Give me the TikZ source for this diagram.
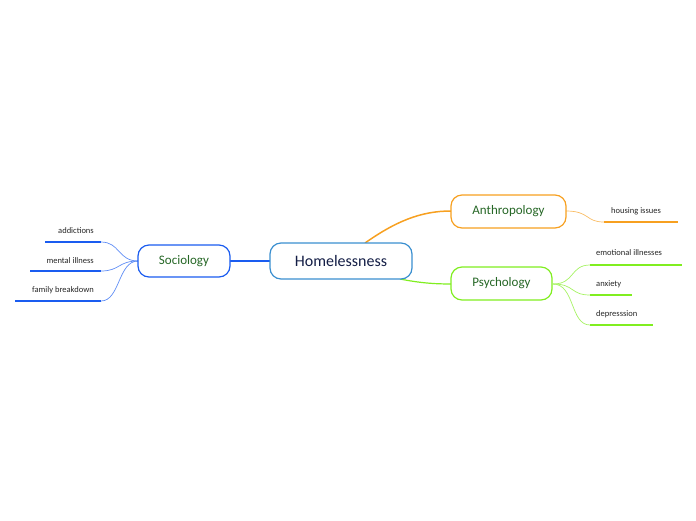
\documentclass[tikz,border=0pt]{standalone}
\usepackage{fontspec}
\setmainfont{Carlito}
\begin{document}
\begin{tikzpicture}[x=1pt,y=-1pt,
 main/.style={draw,line width=1.2pt,rounded corners=11pt,fill=white,font=\fontsize{13}{15}\selectfont,text=green!30!black!85,minimum height=33pt},
 leaf/.style={font=\fontsize{8.5}{10}\selectfont,text=black!85,inner sep=1pt}]
\definecolor{cb}{HTML}{3A8FD0}\definecolor{cs}{HTML}{1A5CF0}
\definecolor{co}{HTML}{F7A020}\definecolor{cg}{HTML}{80EE20}
\useasboundingbox (0,0) rectangle (696,520);
% connectors
\draw[cs,line width=1.2pt] (230,261) -- (270,261);
\draw[co,line width=1.5pt] (365,243) .. controls (395,222) and (420,211) .. (451,211);
\draw[cg,line width=1.2pt] (400,279) .. controls (420,283) and (435,284) .. (451,284);
\draw[cs!70,line width=0.7pt] (138,261) .. controls (118,261) and (120,242) .. (101,242);
\draw[cs!70,line width=0.7pt] (138,261) .. controls (118,261) and (120,271) .. (101,271);
\draw[cs!70,line width=0.7pt] (138,261) .. controls (118,261) and (120,301) .. (101,301);
\draw[co!70,line width=0.7pt] (566,211) .. controls (590,211) and (585,222) .. (604,222);
\draw[cg!70,line width=0.7pt] (553,284) .. controls (575,284) and (570,265) .. (590,265);
\draw[cg!70,line width=0.7pt] (553,284) .. controls (575,284) and (570,295) .. (590,295);
\draw[cg!70,line width=0.7pt] (553,284) .. controls (575,284) and (570,325) .. (590,325);
% underlines
\draw[cs,line width=2pt] (45,242) -- (101,242);
\draw[cs,line width=2pt] (30,271) -- (101,271);
\draw[cs,line width=2pt] (15,301) -- (101,301);
\draw[co,line width=2pt] (604,222) -- (678,222);
\draw[cg,line width=2pt] (590,265) -- (682,265);
\draw[cg,line width=2pt] (590,295) -- (632,295);
\draw[cg,line width=2pt] (590,325) -- (653,325);
% nodes
\node[main,draw=cb,minimum width=142pt,minimum height=36pt,font=\fontsize{16}{18}\selectfont,text={rgb,255:red,20;green,30;blue,70}] (home) at (341,261) {Homelessness};
\node[main,draw=cs,minimum width=92pt,minimum height=32pt] (soc) at (184,261) {Sociology};
\node[main,draw=co,minimum width=115pt] (ant) at (508.5,211.5) {Anthropology};
\node[main,draw=cg,minimum width=101pt] (psy) at (501.5,283.5) {Psychology};
\node[leaf,anchor=east] (a1) at (95,231) {addictions};
\node[leaf,anchor=east] (a2) at (95,261) {mental illness};
\node[leaf,anchor=east] (a3) at (95,290) {family breakdown};
\node[leaf,anchor=west] (h1) at (610,211) {housing issues};
\node[leaf,anchor=west] (p1) at (595,253) {emotional illnesses};
\node[leaf,anchor=west] (p2) at (595,284) {anxiety};
\node[leaf,anchor=west] (p3) at (595,314) {depresssion};
\end{tikzpicture}
\end{document}
